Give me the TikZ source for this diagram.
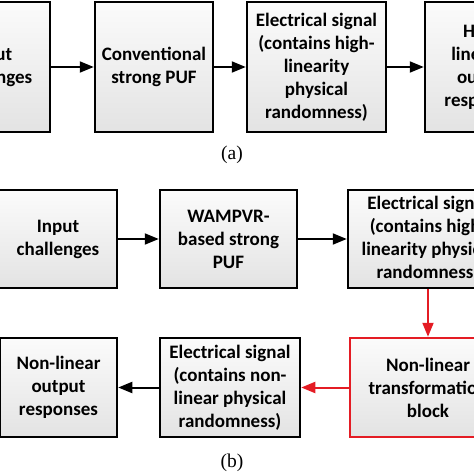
\documentclass[tikz,border=0pt]{standalone}
\usepackage{fontspec}
\setmainfont{Carlito}
\newfontfamily\capfont{Liberation Serif}
\usetikzlibrary{arrows.meta}
\definecolor{blkred}{RGB}{228,28,36}
\tikzset{
	blk/.style={draw,line width=2.5pt,top color=gray!3,bottom color=gray!22,align=center,inner sep=0pt,font=\bfseries\fontsize{19}{23}\selectfont},
	link/.style={line width=2pt,-{Triangle[length=14pt,width=11pt]}},
	subcap/.style={font=\capfont\fontsize{19.5}{22}\selectfont}
}
\begin{document}
\begin{tikzpicture}[x=1pt,y=-1pt]
	\useasboundingbox (0,0) rectangle (474,474) ;
	\clip (0,0) rectangle (474,474) ;
	\node[blk,minimum width=118pt,minimum height=130pt] (in) at (-9,67) {Input\\challenges} ;
	\node[blk,minimum width=118pt,minimum height=130pt] (conv) at (154,67) {Conventional\\strong PUF} ;
	\node[blk,minimum width=139pt,minimum height=130pt] (sig) at (316.5,67) {Electrical signal\\(contains high-\\linearity\\physical\\randomness)} ;
	\node[blk,minimum width=118pt,minimum height=130pt] (hout) at (484,67) {High-\\linearity\\output\\responses} ;
	\draw[link] (in) -- (conv) ;
	\draw[link] (conv) -- (sig) ;
	\draw[link] (sig) -- (hout) ;
	\node[subcap] (capa) at (232,155) {(a)} ;
	\node[blk,minimum width=118pt,minimum height=98pt] (bin) at (58,239) {Input\\challenges} ;
	\node[blk,minimum width=137pt,minimum height=98pt] (bpuf) at (228.5,239) {WAMPVR-\\based strong\\PUF} ;
	\node[blk,minimum width=160pt,minimum height=98pt] (bsig) at (428,239) {Electrical signal\\(contains high-\\linearity physical\\randomness)} ;
	\node[blk,draw=blkred,minimum width=156pt,minimum height=99pt] (btrans) at (428,387.5) {Non-linear\\transformation\\block} ;
	\node[blk,minimum width=140pt,minimum height=99pt] (bsig2) at (230,387.5) {Electrical signal\\(contains non-\\linear physical\\randomness)} ;
	\node[blk,minimum width=117pt,minimum height=99pt] (bout) at (58.5,387.5) {Non-linear\\output\\responses} ;
	\draw[link] (bin) -- (bpuf) ;
	\draw[link] (bpuf) -- (bsig) ;
	\draw[link,blkred] (bsig) -- (btrans) ;
	\draw[link,blkred] (btrans) -- (bsig2) ;
	\draw[link] (bsig2) -- (bout) ;
	\node[subcap] (capb) at (232,463) {(b)} ;
\end{tikzpicture}
\end{document}
